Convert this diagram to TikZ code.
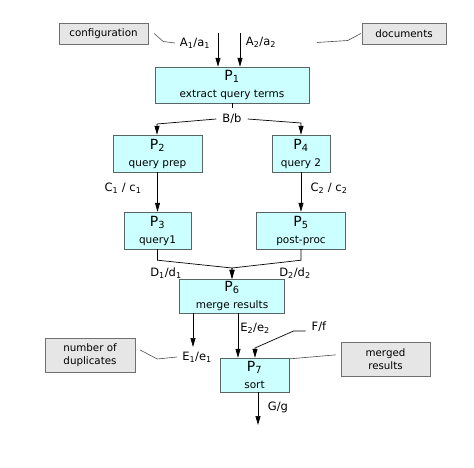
\documentclass[tikz,border=0pt]{standalone}
\usepackage{fontspec}
\setmainfont{DejaVu Sans}
\usetikzlibrary{arrows.meta}
\definecolor{procfill}{HTML}{CCFFFF}
\definecolor{procline}{HTML}{5A6464}
\definecolor{notefill}{HTML}{E6E6E6}
\definecolor{noteline}{HTML}{707070}
\newcommand{\pname}[1]{{\fontsize{14}{14}\selectfont P\textsubscript{#1}}}
\newcommand{\fl}[2]{#1\textsubscript{#2}}
\begin{document}
\begin{tikzpicture}[x=1pt,y=-1pt,
    proc/.style={draw=procline, fill=procfill, align=center, inner sep=1pt,
      font=\fontsize{10.5}{17}\selectfont},
    note/.style={draw=noteline, fill=notefill, align=center, inner sep=1pt,
      font=\fontsize{10.3}{13}\selectfont},
    lbl/.style={inner sep=1pt, font=\fontsize{11.5}{11.5}\selectfont},
    flow/.style={-{Triangle[length=9pt,width=5pt]}, line width=0.7pt},
    callout/.style={draw=black!70, line width=0.6pt}]
    \useasboundingbox (0,0) rectangle (474,468);

    \node[note, minimum width=89pt, minimum height=21pt] (conf) at (103.5,33.5) {configuration};
    \node[note, minimum width=84pt, minimum height=21pt] (docs) at (404,33.5) {documents};
    \node[note, minimum width=90pt, minimum height=34pt] (dups) at (90,355) {number of\\duplicates};
    \node[note, minimum width=89pt, minimum height=34pt] (merged) at (385.5,359.5) {merged\\results};

    \node[proc, minimum width=154pt, minimum height=36pt] (p1) at (232,85) {\pname{1}\\extract query terms};
    \node[proc, minimum width=89pt, minimum height=37pt] (p2) at (157.5,153.5) {\pname{2}\\query prep};
    \node[proc, minimum width=58pt, minimum height=37pt] (p4) at (301,153.5) {\pname{4}\\query 2};
    \node[proc, minimum width=67pt, minimum height=37pt] (p3) at (157.5,230.5) {\pname{3}\\query1};
    \node[proc, minimum width=89pt, minimum height=37pt] (p5) at (301,230.5) {\pname{5}\\post-proc};
    \node[proc, minimum width=105pt, minimum height=34pt] (p6) at (232,296) {\pname{6}\\merge results};
    \node[proc, minimum width=69pt, minimum height=34pt] (p7) at (254.5,375) {\pname{7}\\sort};

    \node[lbl] (la1) at (195,43) {\fl{A}{1}/\fl{a}{1}};
    \node[lbl] (la2) at (261,42) {\fl{A}{2}/\fl{a}{2}};
    \node[lbl] (lb) at (232,119) {B/b};
    \node[lbl] (lc1) at (123,188) {\fl{C}{1} / \fl{c}{1}};
    \node[lbl] (lc2) at (329,188) {\fl{C}{2} / \fl{c}{2}};
    \node[lbl] (ld1) at (166,273) {\fl{D}{1}/\fl{d}{1}};
    \node[lbl] (ld2) at (295,273) {\fl{D}{2}/\fl{d}{2}};
    \node[lbl] (le1) at (197,357) {\fl{E}{1}/\fl{e}{1}};
    \node[lbl] (le2) at (255,328) {\fl{E}{2}/\fl{e}{2}};
    \node[lbl] (lf) at (319,327) {F/f};
    \node[lbl] (lg) at (278,407) {G/g};

    \coordinate (a1) at (218,33);
    \coordinate (a2) at (240,33);
    \coordinate (b2) at (157,124);
    \coordinate (b4) at (301,123);
    \coordinate (m6) at (232,268);
    \coordinate (e1) at (193,347);
    \coordinate (e2) at (238,313);
    \coordinate (f7) at (255,348);
    \coordinate (g) at (258,425);

    \draw[flow] (a1) -- (a1 |- p1.north);
    \draw[flow] (a2) -- (a2 |- p1.north);
    \draw (p1.south) -- ++(0,5);
    \draw[flow] ([xshift=-5pt]lb.west) -- (b2) -- (b2 |- p2.north);
    \draw[flow] ([xshift=5pt]lb.east) -- (b4) -- (b4 |- p4.north);
    \draw[flow] (p2.south) -- (p3.north);
    \draw[flow] (p4.south) -- (p5.north);
    \draw[flow] (p3.south) -- ++(0,11) -- (m6) -- (p6.north);
    \draw[flow] (p5.south) -- ++(0,11) -- (m6) -- (p6.north);
    \draw[flow] (e1 |- p6.south) -- (e1);
    \draw[flow] (e2) -- (e2 |- p7.north);
    \draw[flow] ([xshift=-5pt,yshift=-4pt]lf.west) -- ++(-12,0) -- (f7) -- (f7 |- p7.north);
    \draw[flow] (g |- p7.south) -- (g);

    \draw[callout] ([xshift=6pt]conf.east) -- ++(9,8) -- ([xshift=-4pt]la1.west);
    \draw[callout] ([xshift=-1pt]docs.west) -- ++(-13,7) -- ++(-31,2);
    \draw[callout] ([xshift=5pt,yshift=5pt]dups.east) -- ++(17,9) -- ([xshift=-4pt]le1.west);
    \draw[callout] ([xshift=1pt,yshift=-1pt]p7.north east) -- ++(46,-4);
\end{tikzpicture}
\end{document}
